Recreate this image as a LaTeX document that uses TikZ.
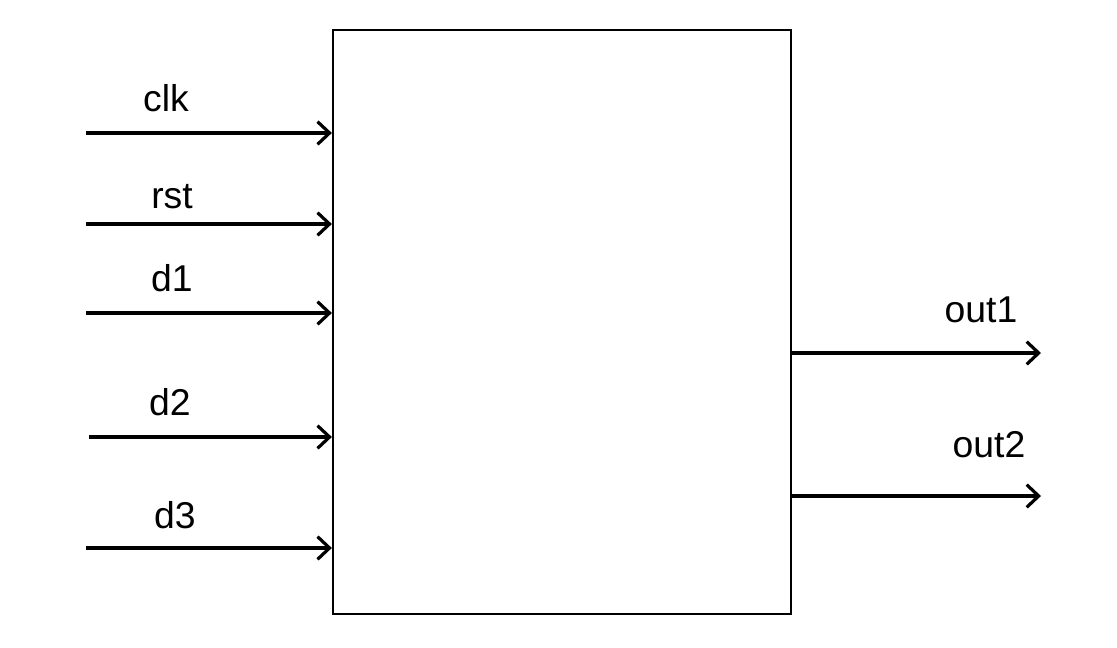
\documentclass[tikz,border=0pt]{standalone}
\usepackage{fontspec}
\setmainfont{Liberation Sans}
\usetikzlibrary{arrows.meta}
\tikzset{
  sig/.style={line width=2.4pt, -{Straight Barb[length=9pt,width=17pt,line width=2.4pt]}},
  lbl/.style={anchor=base, inner sep=0pt, font=\fontsize{28}{32}\selectfont},
}
\begin{document}
\begin{tikzpicture}[x=0.75pt,y=-0.75pt]
                \useasboundingbox (0,0) rectangle (1117,648);
                % block
                \node (blk) [draw, line width=1.7pt, minimum width=343.5pt, minimum height=438pt, inner sep=0pt] at (562,322) {};
                % inputs
                \coordinate (clk) at (86,133);
                \coordinate (rst) at (86,224);
                \coordinate (d1) at (86,313);
                \coordinate (d2) at (89,437);
                \coordinate (d3) at (86,548);
                \draw [sig] (clk) -- (clk -| blk.west);
                \draw [sig] (rst) -- (rst -| blk.west);
                \draw [sig] (d1) -- (d1 -| blk.west);
                \draw [sig] (d2) -- (d2 -| blk.west);
                \draw [sig] (d3) -- (d3 -| blk.west);
                \node (lclk) [lbl] at (166,112) {clk};
                \node (lrst) [lbl] at (172,209) {rst};
                \node (ld1) [lbl] at (172,292) {d1};
                \node (ld2) [lbl] at (170,416) {d2};
                \node (ld3) [lbl] at (175,528) {d3};
                % outputs
                \coordinate (out1) at (1041,353);
                \coordinate (out2) at (1041,496);
                \draw [sig] (out1 -| blk.east) -- (out1);
                \draw [sig] (out2 -| blk.east) -- (out2);
                \node (lout1) [lbl] at (981,323) {out1};
                \node (lout2) [lbl] at (989,457) {out2};
\end{tikzpicture}
\end{document}
